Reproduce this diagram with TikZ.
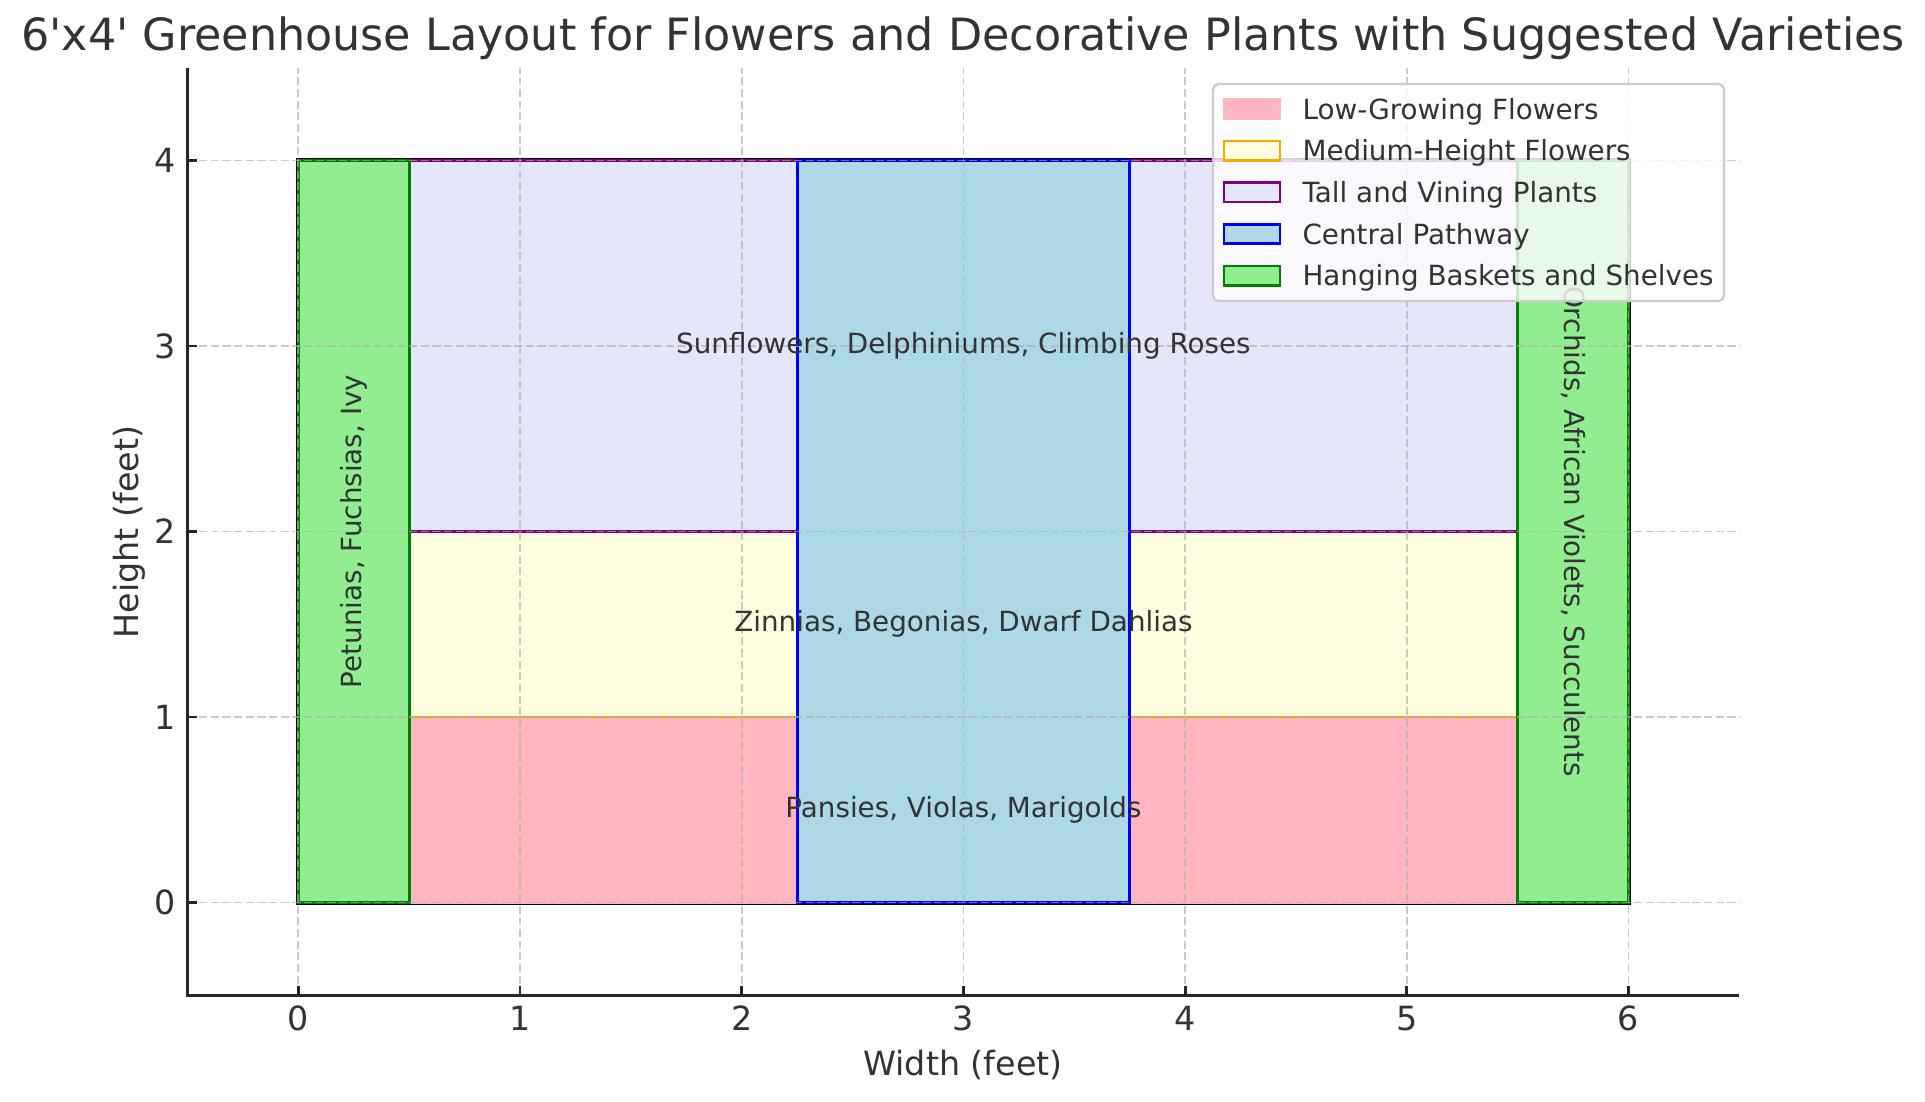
\documentclass[tikz,border=0pt]{standalone}
\usepackage{fontspec}
\setmainfont{DejaVu Sans}[Ligatures=TeXOff]
\definecolor{lpink}{HTML}{FFB6C1}
\definecolor{lyellow}{HTML}{FFFFE0}
\definecolor{lavend}{HTML}{E6E6FA}
\definecolor{lblue}{HTML}{ADD8E6}
\definecolor{lgreen}{HTML}{90EE90}
\definecolor{eorange}{HTML}{FFA500}
\definecolor{epurple}{HTML}{800080}
\definecolor{eblue}{HTML}{0000FF}
\definecolor{egreen}{HTML}{008000}
\definecolor{gridc}{HTML}{B0B0B0}
\definecolor{txt}{HTML}{333333}
\definecolor{spinec}{HTML}{262626}
\definecolor{legedge}{HTML}{CCCCCC}
\tikzset{
  gridline/.style={draw=gridc, draw opacity=0.65, line width=0.6pt, dash pattern=on 2.9pt off 1.3pt},
  spine/.style={draw=spinec, line width=1pt},
  patch/.style={line width=1pt},
  ticklab/.style={text=txt, font=\fontsize{12}{14}\selectfont, inner sep=0pt},
  axlab/.style={text=txt, font=\fontsize{12}{14}\selectfont, inner sep=0pt},
  plantlab/.style={text=txt, font=\fontsize{10}{12}\selectfont, inner sep=0pt},
  leglab/.style={text=txt, font=\fontsize{10}{12}\selectfont, inner sep=0pt, anchor=base west},
  swatch/.style={line width=1pt},
}
\begin{document}
\begin{tikzpicture}[x=0.36pt,y=0.36pt]
\useasboundingbox (0,0) rectangle (1925,1101);
\fill[white] (0,0) rectangle (1925,1101);
\begin{scope}[shift={(107.388pt,71.46pt)}, x=79.812pt, y=66.78pt]
  % greenhouse outline
  \draw[black, line width=2pt] (0,0) rectangle (6,4);
  % zones
  \filldraw[patch, fill=lpink, draw=lpink] (0.5,0) rectangle (5.5,1);
  \filldraw[patch, fill=lyellow, draw=eorange] (0.5,1) rectangle (5.5,2);
  \filldraw[patch, fill=lavend, draw=epurple] (0.5,2) rectangle (5.5,4);
  \filldraw[patch, fill=lblue, draw=eblue] (2.25,0) rectangle (3.75,4);
  \filldraw[patch, fill=lgreen, draw=egreen] (0,0) rectangle (0.5,4);
  \filldraw[patch, fill=lgreen, draw=egreen] (5.5,0) rectangle (6,4);
  % grid
  \foreach \x in {0,...,6} \draw[gridline] (\x,-0.5) -- (\x,4.5);
  \foreach \y in {0,...,4} \draw[gridline] (-0.5,\y) -- (6.5,\y);
  % labels of the zones
  \node[plantlab] (tall) at (3,3) {Sunflowers, Delphiniums, Climbing Roses};
  \node[plantlab] (medium) at (3,1.5) {Zinnias, Begonias, Dwarf Dahlias};
  \node[plantlab] (low) at (3,0.5) {Pansies, Violas, Marigolds};
  \node[plantlab, rotate=90] (hangL) at (0.25,2) {Petunias, Fuchsias, Ivy};
  \node[plantlab, rotate=-90] (hangR) at (5.75,2) {Orchids, African Violets, Succulents};
  % spines and ticks
  \draw[spine] (-0.5,4.5) -- (-0.5,-0.5) -- (6.5,-0.5);
  \foreach \x in {0,...,6} {
    \draw[spine] (\x,-0.5) -- ++(0,3.5pt);
    \node[ticklab, anchor=base, yshift=-12.64pt] (xt\x) at (\x,-0.5) {\x};
  }
  \foreach \y in {0,...,4} {
    \draw[spine] (-0.5,\y) -- ++(3.5pt,0);
    \node[ticklab, anchor=east, xshift=-4.2pt] (yt\y) at (-0.5,\y) {\y};
  }
\end{scope}
% title and axis labels
\node[text=txt, font=\fontsize{16}{19}\selectfont, inner sep=0pt, anchor=base] (title) at (963,1050) {6'x4' Greenhouse Layout for Flowers and Decorative Plants with Suggested Varieties};
\node[axlab, anchor=base] (xlab) at (963,26) {Width (feet)};
\node[axlab, anchor=base, rotate=90] (ylab) at (138,569) {Height (feet)};
% legend
\draw[draw=legedge, line width=0.8pt, fill=white, fill opacity=0.8, rounded corners=2pt] (1213,1017) rectangle (1724,800);
\filldraw[swatch, fill=lpink, draw=lpink] (1224,982.3) rectangle (1280,1001.7);
\filldraw[swatch, fill=lyellow, draw=eorange] (1224,940.6) rectangle (1280,960);
\filldraw[swatch, fill=lavend, draw=epurple] (1224,898.9) rectangle (1280,918.3);
\filldraw[swatch, fill=lblue, draw=eblue] (1224,857.2) rectangle (1280,876.6);
\filldraw[swatch, fill=lgreen, draw=egreen] (1224,815.5) rectangle (1280,834.9);
\node[leglab] (l1) at (1302,981.9) {Low-Growing Flowers};
\node[leglab] (l2) at (1302,940.2) {Medium-Height Flowers};
\node[leglab] (l3) at (1302,898.5) {Tall and Vining Plants};
\node[leglab] (l4) at (1302,856.8) {Central Pathway};
\node[leglab] (l5) at (1302,815.1) {Hanging Baskets and Shelves};
\end{tikzpicture}
\end{document}
